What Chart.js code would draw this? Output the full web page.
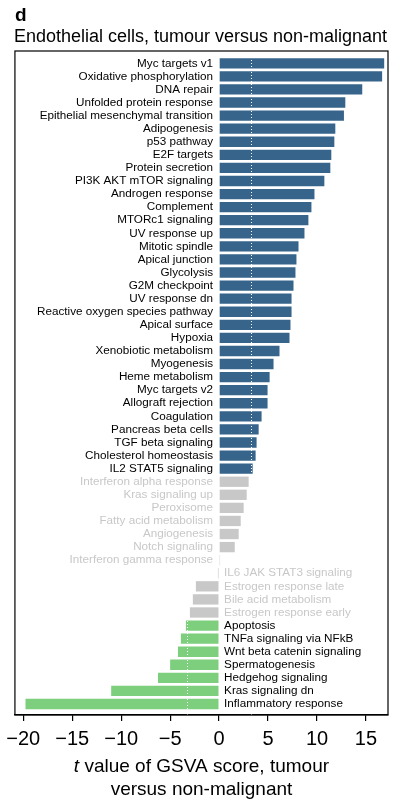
<!DOCTYPE html>
<html>
<head>
<meta charset="utf-8">
<title>Endothelial cells, tumour versus non-malignant</title>
<script src="https://cdn.jsdelivr.net/npm/chart.js@4"></script>
<style>
  html, body { margin: 0; padding: 0; background: #ffffff; }
  #wrap { position: relative; width: 406px; height: 803px; }
</style>
</head>
<body>
<div id="wrap"><canvas id="chart-gsva"></canvas></div>
<script>
  // ============ 数据 ============
  const pathways = [
    'Myc targets v1', 'Oxidative phosphorylation', 'DNA repair', 'Unfolded protein response',
    'Epithelial mesenchymal transition', 'Adipogenesis', 'p53 pathway', 'E2F targets',
    'Protein secretion', 'PI3K AKT mTOR signaling', 'Androgen response', 'Complement',
    'MTORc1 signaling', 'UV response up', 'Mitotic spindle', 'Apical junction', 'Glycolysis',
    'G2M checkpoint', 'UV response dn', 'Reactive oxygen species pathway', 'Apical surface',
    'Hypoxia', 'Xenobiotic metabolism', 'Myogenesis', 'Heme metabolism', 'Myc targets v2',
    'Allograft rejection', 'Coagulation', 'Pancreas beta cells', 'TGF beta signaling',
    'Cholesterol homeostasis', 'IL2 STAT5 signaling',
    'Interferon alpha response', 'Kras signaling up', 'Peroxisome', 'Fatty acid metabolism',
    'Angiogenesis', 'Notch signaling', 'Interferon gamma response',
    'IL6 JAK STAT3 signaling', 'Estrogen response late', 'Bile acid metabolism',
    'Estrogen response early',
    'Apoptosis', 'TNFa signaling via NFkB', 'Wnt beta catenin signaling', 'Spermatogenesis',
    'Hedgehog signaling', 'Kras signaling dn', 'Inflammatory response'
  ];

  const tValues = [
    16.86, 16.65, 14.62, 12.89, 12.75, 11.87, 11.77, 11.46, 11.36, 10.75, 9.74, 9.43,
    9.12, 8.72, 8.11, 7.90, 7.80, 7.60, 7.40, 7.40, 7.29, 7.19, 6.17, 5.56, 5.16, 4.95,
    4.95, 4.34, 4.04, 3.83, 3.73, 3.43,
    3.02, 2.82, 2.51, 2.21, 2.00, 1.60, 0.10,
    -0.12, -2.37, -2.68, -2.98,
    -3.39, -3.90, -4.20, -5.00, -6.24, -11.02, -19.77
  ];

  // 显著性阈值 (虚线)
  const thresholds = [-3.3, 3.3];
  const tickValues = [-20, -15, -10, -5, 0, 5, 10, 15];

  const COLOR_UP = '#36648b';
  const COLOR_DOWN = '#7dce7d';
  const COLOR_NS = '#c8c8c8';
  const FONT = '"Liberation Sans", Arial, Helvetica, sans-serif';

  // y 轴范围 (条形上下留白)
  const Y_MIN = -0.94;
  const Y_MAX = pathways.length - 1 + 0.84;

  function isSignificant(v) {
    return v >= thresholds[1] || v <= thresholds[0];
  }

  function barColor(v) {
    if (!isSignificant(v)) return COLOR_NS;
    return v > 0 ? COLOR_UP : COLOR_DOWN;
  }

  // ============ 插件 ============

  // 标题 "d" + 副标题
  const headerPlugin = {
    id: 'header',
    afterDraw(chart) {
      const ctx = chart.ctx;
      const area = chart.chartArea;
      ctx.save();
      ctx.fillStyle = '#000';
      ctx.textAlign = 'left';
      ctx.textBaseline = 'alphabetic';
      ctx.font = 'bold 19px ' + FONT;
      ctx.fillText('d', area.left, 21);
      ctx.font = '18px ' + FONT;
      ctx.fillText('Endothelial cells, tumour versus non-malignant', area.left - 1, 42);
      ctx.restore();
    }
  };

  // 外框、阈值虚线、条形标签、x 轴标题
  const decorPlugin = {
    id: 'decor',
    afterDatasetsDraw(chart) {
      const ctx = chart.ctx;
      const area = chart.chartArea;
      const x = chart.scales.x;
      const y = chart.scales.y;

      ctx.save();
      // 虚线
      ctx.strokeStyle = '#ffffff';
      ctx.lineWidth = 1;
      ctx.setLineDash([1, 2]);
      thresholds.forEach(function (t) {
        const px = Math.round(x.getPixelForValue(t)) + 0.5;
        ctx.beginPath();
        ctx.moveTo(px, area.top);
        ctx.lineTo(px, area.bottom);
        ctx.stroke();
      });
      ctx.setLineDash([]);

      // 标签
      const zero = x.getPixelForValue(0);
      ctx.font = '11.7px ' + FONT;
      ctx.textBaseline = 'middle';
      pathways.forEach(function (name, i) {
        const v = tValues[i];
        const py = y.getPixelForValue(i);
        ctx.fillStyle = isSignificant(v) ? '#000' : COLOR_NS;
        if (v >= 0) {
          ctx.textAlign = 'right';
          ctx.fillText(name, zero - 6, py);
        } else {
          ctx.textAlign = 'left';
          ctx.fillText(name, zero + 5, py);
        }
      });

      // 外框
      ctx.strokeStyle = '#000';
      ctx.lineWidth = 1.2;
      ctx.strokeRect(area.left, area.top, area.right - area.left, area.bottom - area.top);
      ctx.restore();
    },
    afterDraw(chart) {
      const ctx = chart.ctx;
      const area = chart.chartArea;
      const cx = (area.left + area.right) / 2;
      ctx.save();
      ctx.fillStyle = '#000';
      ctx.textBaseline = 'alphabetic';
      // 第一行: 斜体 t + 常规文字
      const italic = 'italic 19px ' + FONT;
      const normal = '19px ' + FONT;
      const rest = ' value of GSVA score, tumour';
      ctx.font = italic;
      const wT = ctx.measureText('t').width;
      ctx.font = normal;
      const wRest = ctx.measureText(rest).width;
      const start = cx - (wT + wRest) / 2;
      ctx.textAlign = 'left';
      ctx.font = italic;
      ctx.fillText('t', start, 772);
      ctx.font = normal;
      ctx.fillText(rest, start + wT, 772);
      ctx.textAlign = 'center';
      ctx.fillText('versus non-malignant', cx, 795);
      ctx.restore();
    }
  };

  // ============ 图表 ============
  const canvas = document.querySelector('#chart-gsva');
  new Chart(canvas.getContext('2d'), {
    type: 'bar',
    data: {
      datasets: [{
        data: tValues.map(function (v, i) { return { x: v, y: i }; }),
        backgroundColor: tValues.map(barColor),
        borderWidth: 0,
        barPercentage: 0.79,
        categoryPercentage: 1
      }]
    },
    options: {
      indexAxis: 'y',
      responsive: true,
      maintainAspectRatio: false,
      animation: false,
      layout: { padding: { left: 13, right: 18, top: 51, bottom: 46 } },
      plugins: {
        legend: { display: false },
        tooltip: { enabled: false }
      },
      scales: {
        y: {
          type: 'linear',
          reverse: true,
          offset: false,
          grace: 0,
          min: Y_MIN,
          max: Y_MAX,
          display: false,
          afterBuildTicks: function (scale) {
            // 固定范围, 不做取整
            scale.min = Y_MIN;
            scale.max = Y_MAX;
          }
        },
        x: {
          type: 'linear',
          min: -20.85,
          max: 17.25,
          afterBuildTicks: function (scale) {
            scale.ticks = tickValues.map(function (v) { return { value: v }; });
          },
          grid: {
            drawOnChartArea: false,
            drawTicks: true,
            tickLength: 6,
            color: '#000',
            lineWidth: 1.2
          },
          border: { display: true, color: '#000', width: 1.2 },
          ticks: {
            padding: 6,
            color: '#000',
            font: { family: FONT, size: 20 },
            maxRotation: 0,
            autoSkip: false,
            callback: function (v) {
              return v < 0 ? '\u2212' + Math.abs(v) : String(v);
            }
          }
        }
      }
    },
    plugins: [headerPlugin, decorPlugin]
  });
</script>
</body>
</html>
